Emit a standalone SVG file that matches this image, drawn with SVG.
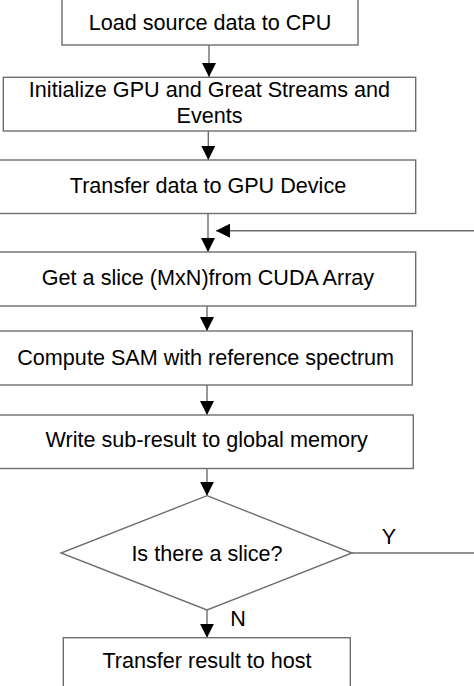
<svg xmlns="http://www.w3.org/2000/svg" width="474" height="686" viewBox="0 0 474 686">
<style>
.box{fill:#fff;stroke:#6e6e6e;stroke-width:1.4}
.ln{fill:none;stroke:#6e6e6e;stroke-width:1.4}
.t{font-family:"Liberation Sans",Arial,sans-serif;font-size:21.6px;fill:#000;text-anchor:middle}
</style>
<defs>
<marker id="ah" markerWidth="14" markerHeight="14" refX="14" refY="7" orient="auto" markerUnits="userSpaceOnUse">
<path d="M0,0 L14,7 L0,14 Z" fill="#000"/>
</marker>
</defs>
<rect width="474" height="686" fill="#fff"/>
<g id="connectors">
<line class="ln" x1="209" y1="45" x2="209" y2="77" marker-end="url(#ah)"/>
<line class="ln" x1="208.3" y1="131" x2="208.3" y2="160" marker-end="url(#ah)"/>
<line class="ln" x1="208" y1="213.5" x2="208" y2="252" marker-end="url(#ah)"/>
<line class="ln" x1="475" y1="230.7" x2="216" y2="230.7" marker-end="url(#ah)"/>
<line class="ln" x1="207" y1="306" x2="207" y2="331" marker-end="url(#ah)"/>
<line class="ln" x1="207" y1="385" x2="207" y2="415" marker-end="url(#ah)"/>
<line class="ln" x1="207" y1="468.5" x2="207" y2="495.7" marker-end="url(#ah)"/>
<line class="ln" x1="352" y1="553" x2="475" y2="553"/>
<line class="ln" x1="207" y1="610" x2="207" y2="637.7" marker-end="url(#ah)"/>
<text class="t" x="389" y="544">Y</text>
<text class="t" x="238" y="626">N</text>
</g>
<g id="n1">
<rect class="box" x="62" y="-1" width="296" height="46"/>
<text class="t" x="210" y="29.5">Load source data to CPU</text>
</g>
<g id="n2">
<rect class="box" x="3.3" y="77.3" width="412.4" height="53.7"/>
<text class="t" x="209.5" y="97.3">Initialize GPU and Great Streams and</text>
<text class="t" x="209.5" y="123.3">Events</text>
</g>
<g id="n3">
<rect class="box" x="-2" y="160" width="417.7" height="53.5"/>
<text class="t" x="208" y="193.3">Transfer data to GPU Device</text>
</g>
<g id="n4">
<rect class="box" x="-2" y="252" width="417.7" height="54"/>
<text class="t" x="208" y="285">Get a slice (MxN)from CUDA Array</text>
</g>
<g id="n5">
<rect class="box" x="-2" y="331" width="414.3" height="54"/>
<text class="t" x="205.7" y="365">Compute SAM with reference spectrum</text>
</g>
<g id="n6">
<rect class="box" x="-2" y="415" width="415.3" height="53.5"/>
<text class="t" x="206.7" y="447.3">Write sub-result to global memory</text>
</g>
<g id="n7">
<polygon class="box" points="207,495.7 352,553 207,610 61,553"/>
<text class="t" x="207" y="560.5">Is there a slice?</text>
</g>
<g id="n8">
<rect class="box" x="63.3" y="637.7" width="287" height="60"/>
<text class="t" x="207" y="667.7">Transfer result to host</text>
</g>
</svg>
